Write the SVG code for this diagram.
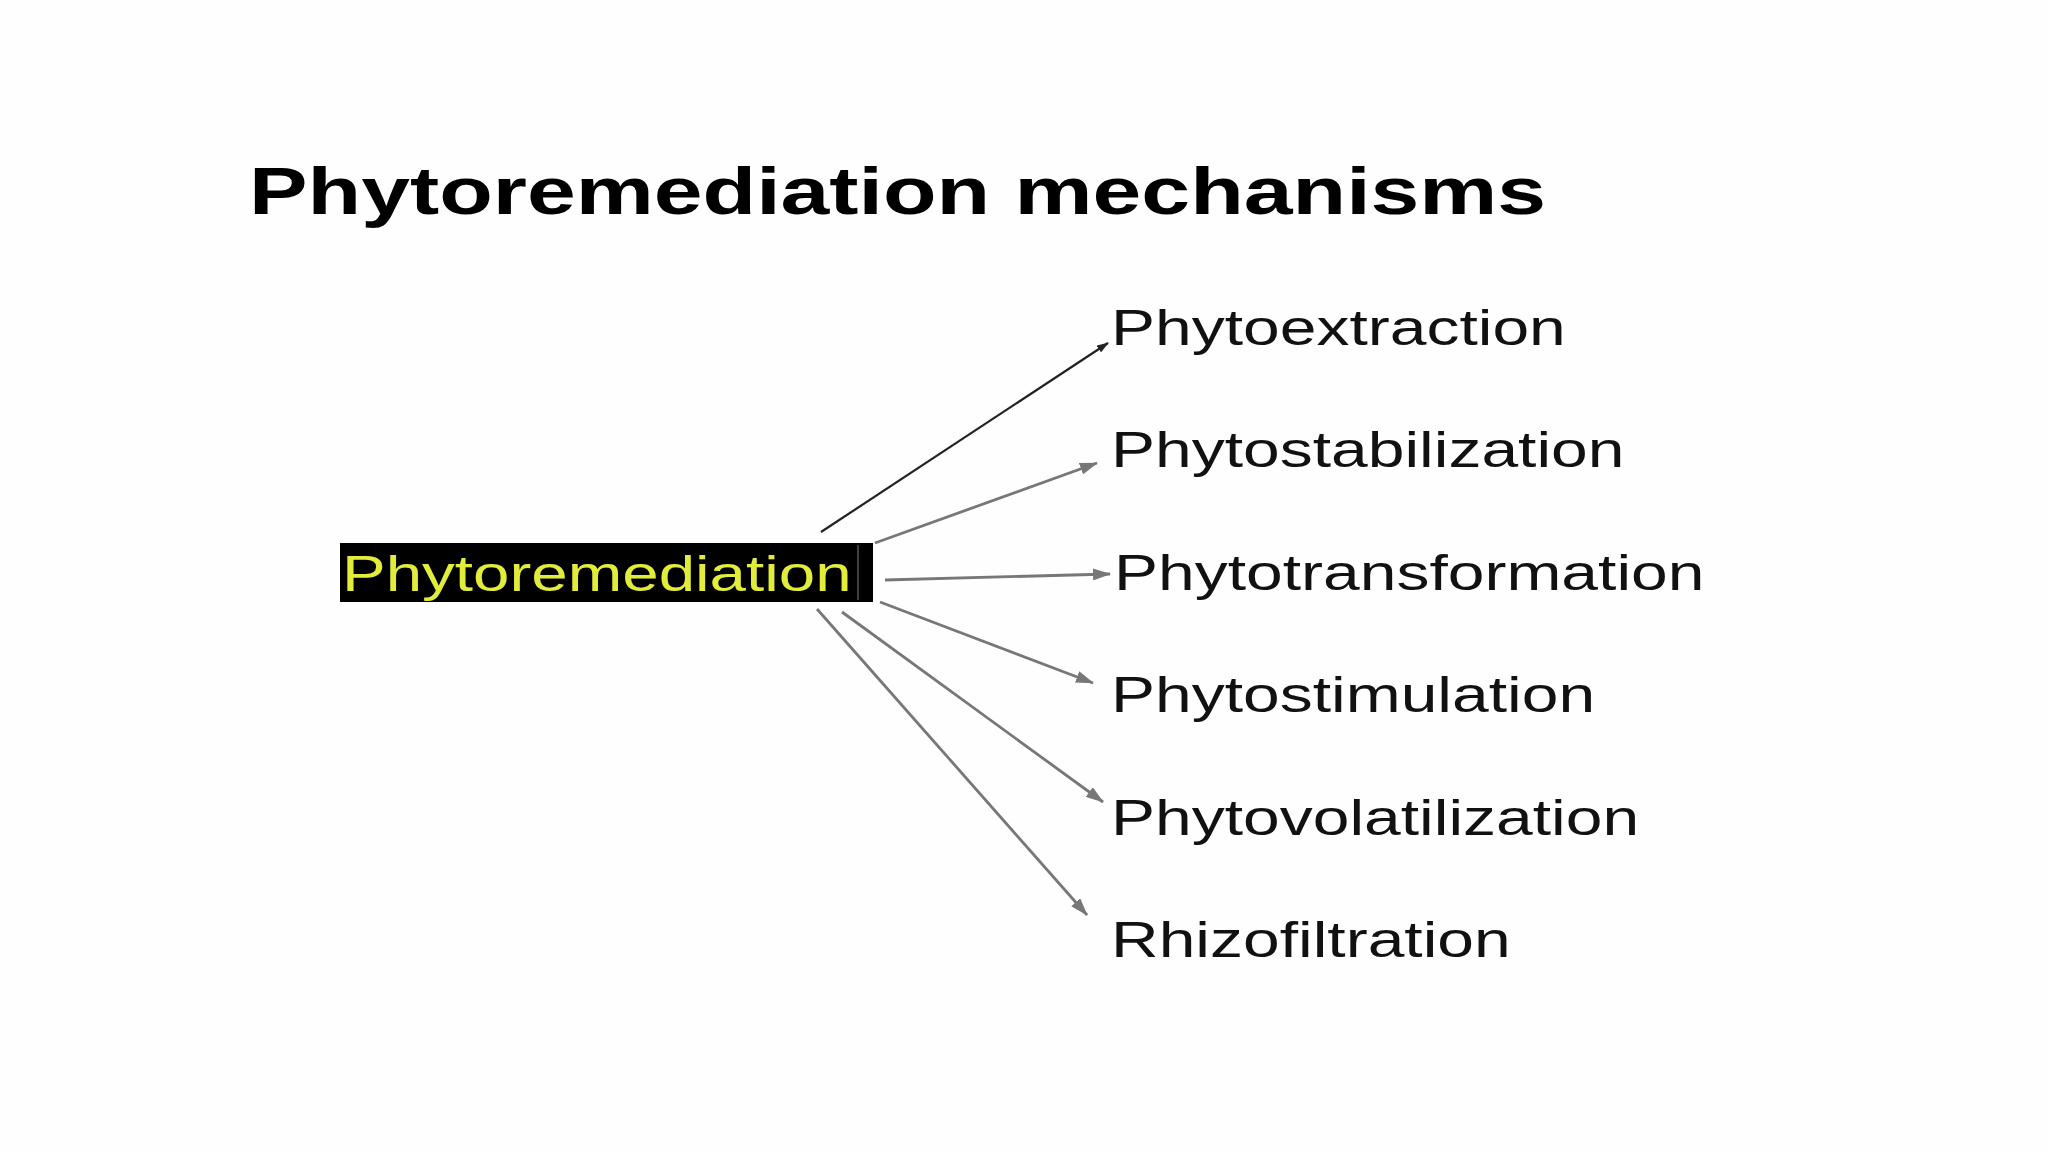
<svg xmlns="http://www.w3.org/2000/svg" width="2048" height="1152" viewBox="0 0 2048 1152">
  <style>
    .title { font-family: "Liberation Sans", Arial, sans-serif; font-weight: bold; font-size: 67px; fill: #000; }
    .label { font-family: "Liberation Sans", Arial, sans-serif; font-size: 50px; fill: #111; }
    .root-text { font-family: "Liberation Sans", Arial, sans-serif; font-size: 50px; fill: #e2ec3a; }
    .conn { stroke: #777; stroke-width: 2.8; fill: none; }
    .conn-dark { stroke: #222; stroke-width: 2.2; fill: none; }
  </style>
  <defs>
    <marker id="arrowGray" markerUnits="userSpaceOnUse" markerWidth="18" markerHeight="12" refX="17" refY="6" orient="auto">
      <path d="M0,0 L18,6 L0,12 Z" fill="#777"/>
    </marker>
    <marker id="arrowDark" markerUnits="userSpaceOnUse" markerWidth="12" markerHeight="8" refX="11" refY="4" orient="auto">
      <path d="M0,0 L12,4 L0,8 Z" fill="#222"/>
    </marker>
  </defs>
  <rect width="2048" height="1152" fill="#fefefe"/>

  <g id="title">
    <text class="title" transform="translate(249 214) scale(1.31 1)">Phytoremediation mechanisms</text>
  </g>

  <g id="connectors">
    <line class="conn-dark" x1="821" y1="532" x2="1108" y2="343" marker-end="url(#arrowDark)"/>
    <line class="conn" x1="875" y1="543" x2="1097" y2="463" marker-end="url(#arrowGray)"/>
    <line class="conn" x1="885" y1="580" x2="1110" y2="574" marker-end="url(#arrowGray)"/>
    <line class="conn" x1="880" y1="602" x2="1093" y2="683" marker-end="url(#arrowGray)"/>
    <line class="conn" x1="842" y1="612" x2="1103" y2="802" marker-end="url(#arrowGray)"/>
    <line class="conn" x1="817" y1="609" x2="1087" y2="915" marker-end="url(#arrowGray)"/>
  </g>

  <g id="node-phytoremediation">
    <rect x="340" y="543" width="533" height="59" fill="#000"/>
    <line x1="858" y1="545" x2="858" y2="600" stroke="#555" stroke-width="1.5"/>
    <text class="root-text" transform="translate(342 591) scale(1.31 1)">Phytoremediation</text>
  </g>

  <g id="node-phytoextraction">
    <text class="label" transform="translate(1111 345) scale(1.32 1)">Phytoextraction</text>
  </g>
  <g id="node-phytostabilization">
    <text class="label" transform="translate(1111 467) scale(1.32 1)">Phytostabilization</text>
  </g>
  <g id="node-phytotransformation">
    <text class="label" transform="translate(1114 590) scale(1.32 1)">Phytotransformation</text>
  </g>
  <g id="node-phytostimulation">
    <text class="label" transform="translate(1111 712) scale(1.32 1)">Phytostimulation</text>
  </g>
  <g id="node-phytovolatilization">
    <text class="label" transform="translate(1111 835) scale(1.32 1)">Phytovolatilization</text>
  </g>
  <g id="node-rhizofiltration">
    <text class="label" transform="translate(1111 957) scale(1.32 1)">Rhizofiltration</text>
  </g>
</svg>
